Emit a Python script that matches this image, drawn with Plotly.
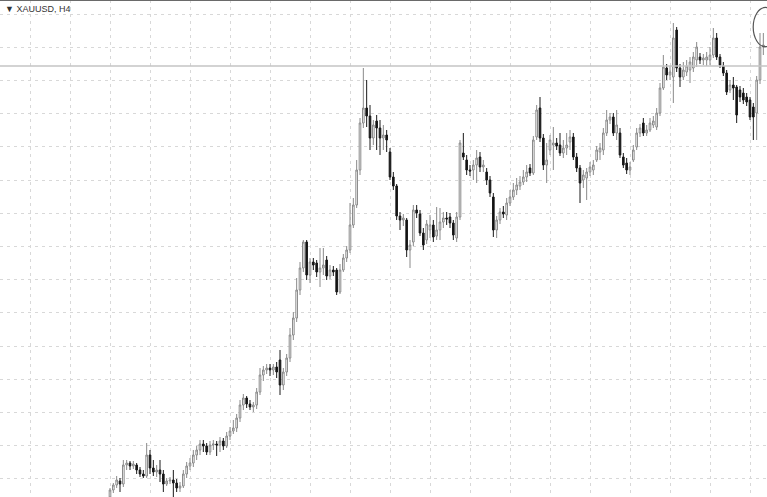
"""XAUUSD H4 candlestick chart in an MT4-like white theme."""
import plotly.graph_objects as go

# Price values (chart units, bottom edge = 3, top edge = 500)
opens = [
    3, 10, 15, 19, 16, 35, 37, 34, 35, 30, 26, 24, 45, 32, 28, 30, 26, 16, 19, 20,
    17, 12, 14, 26, 34, 37, 45, 50, 56, 54, 48, 55, 56, 55, 59, 54, 64, 69, 72, 82,
    95, 102, 96, 93, 95, 108, 125, 130, 132, 130, 133, 140, 115, 128, 142, 165, 182, 210, 232, 258,
    225, 238, 237, 228, 232, 240, 224, 230, 230, 208, 230, 242, 250, 275, 295, 330, 377, 392, 384, 362,
    379, 372, 362, 365, 348, 323, 314, 284, 280, 280, 250, 258, 290, 286, 267, 260, 270, 275, 264, 270,
    278, 282, 283, 277, 262, 283, 347, 340, 330, 330, 335, 343, 333, 328, 320, 303, 270, 280, 288, 285,
    297, 303, 310, 314, 318, 323, 332, 327, 363, 392, 362, 335, 350, 355, 357, 355, 347, 352, 358, 363,
    343, 332, 320, 322, 328, 330, 340, 348, 350, 367, 380, 383, 367, 367, 343, 337, 330, 340, 353, 367,
    377, 367, 370, 375, 373, 387, 412, 432, 425, 423, 470, 432, 423, 428, 430, 432, 440, 443, 440, 440,
    440, 445, 462, 443, 434, 427, 410, 415, 413, 410, 407, 403, 400, 393, 387, 420, 453,
]
highs = [
    12, 17, 24, 22, 40, 40, 39, 39, 37, 33, 30, 57, 50, 40, 35, 40, 30, 22, 23, 30,
    21, 18, 30, 38, 42, 50, 54, 60, 60, 57, 59, 60, 59, 63, 62, 68, 73, 80, 86, 100,
    106, 104, 100, 98, 112, 132, 134, 136, 136, 136, 138, 150, 132, 146, 172, 188, 222, 238, 260, 260,
    242, 242, 240, 252, 252, 244, 235, 234, 232, 236, 246, 254, 297, 302, 340, 382, 432, 420, 395, 380,
    385, 380, 375, 370, 352, 328, 316, 288, 286, 282, 260, 295, 295, 290, 272, 280, 285, 280, 293, 292,
    288, 288, 287, 280, 288, 360, 367, 345, 335, 340, 350, 348, 340, 332, 324, 307, 284, 292, 294, 302,
    310, 317, 322, 324, 330, 335, 336, 364, 395, 403, 366, 357, 365, 373, 362, 367, 360, 367, 370, 367,
    347, 335, 330, 332, 338, 340, 354, 357, 372, 390, 387, 387, 390, 372, 347, 342, 338, 355, 372, 376,
    382, 375, 382, 384, 392, 417, 445, 436, 434, 477, 473, 436, 438, 440, 443, 448, 458, 447, 446, 448,
    453, 472, 467, 446, 438, 430, 420, 423, 415, 414, 412, 407, 403, 397, 424, 467, 467,
]
lows = [
    1, 7, 12, 8, 13, 30, 30, 31, 26, 23, 22, 22, 26, 24, 23, 18, 8, 14, 16, 3,
    8, 8, 12, 22, 30, 33, 40, 45, 48, 45, 45, 50, 44, 48, 50, 52, 60, 66, 68, 78,
    90, 92, 90, 88, 91, 105, 119, 126, 124, 125, 122, 105, 110, 124, 138, 160, 178, 205, 228, 220,
    217, 230, 223, 213, 225, 220, 221, 224, 205, 206, 228, 238, 247, 272, 292, 325, 372, 373, 350, 355,
    350, 345, 350, 348, 320, 310, 280, 270, 274, 243, 232, 254, 282, 264, 250, 256, 262, 258, 260, 260,
    272, 275, 272, 260, 258, 280, 340, 325, 324, 320, 317, 328, 328, 315, 303, 263, 262, 276, 282, 280,
    294, 300, 305, 310, 315, 318, 324, 325, 360, 358, 330, 317, 345, 330, 350, 344, 342, 345, 350, 340,
    328, 297, 312, 300, 324, 325, 338, 340, 345, 364, 376, 364, 360, 342, 332, 326, 325, 338, 350, 363,
    364, 364, 368, 372, 370, 384, 410, 420, 420, 397, 428, 413, 420, 424, 417, 428, 433, 436, 435, 434,
    435, 442, 440, 432, 424, 405, 407, 400, 377, 398, 396, 394, 380, 360, 360, 416, 445,
]
closes = [
    10, 15, 20, 16, 35, 37, 34, 36, 30, 26, 24, 45, 32, 28, 30, 26, 16, 19, 20, 17,
    12, 14, 26, 34, 37, 45, 50, 56, 54, 48, 55, 56, 55, 59, 54, 64, 69, 72, 82, 95,
    102, 96, 93, 95, 108, 125, 130, 132, 130, 133, 128, 115, 128, 142, 165, 182, 210, 232, 258, 225,
    238, 235, 228, 232, 235, 224, 230, 228, 208, 230, 242, 250, 275, 295, 330, 377, 392, 384, 362, 375,
    372, 362, 365, 360, 323, 314, 284, 280, 282, 250, 255, 290, 287, 267, 255, 276, 275, 263, 270, 278,
    282, 281, 277, 265, 283, 357, 343, 330, 329, 335, 342, 333, 335, 320, 307, 270, 280, 288, 286, 297,
    303, 310, 315, 318, 323, 328, 327, 360, 390, 362, 335, 340, 360, 357, 354, 347, 352, 355, 363, 343,
    332, 317, 325, 328, 333, 335, 350, 352, 367, 380, 383, 367, 375, 345, 335, 330, 333, 350, 367, 372,
    367, 370, 377, 379, 387, 412, 433, 425, 428, 462, 432, 423, 430, 434, 438, 443, 453, 440, 442, 443,
    445, 462, 443, 435, 427, 408, 415, 412, 385, 403, 400, 398, 383, 383, 420, 453, 455,
]
bars = list(range(len(closes)))

title_text = "▼ XAUUSD, H4"
hline_price = 434

# pixel geometry of the MT4 window: 12 bars per 40 px grid cell
first_bar_px = 110
px_per_bar = 40 / 12
x_start = -first_bar_px / px_per_bar
x_end = x_start + 767 / px_per_bar

fig = go.Figure()

fig.add_trace(go.Candlestick(
    x=bars,
    open=opens,
    high=highs,
    low=lows,
    close=closes,
    increasing=dict(line=dict(color="#8a8a8a", width=1), fillcolor="#ffffff"),
    decreasing=dict(line=dict(color="#1a1a1a", width=1), fillcolor="#111111"),
    whiskerwidth=0,
    showlegend=False,
))

# horizontal price level line
fig.add_hline(y=hline_price, line_color="#c4c4c4", line_width=1.5)

# top window border
fig.add_shape(type="line", xref="paper", yref="paper", x0=0, x1=1, y0=1, y1=1,
              line=dict(color="#6a6a6a", width=2))

# hand-drawn circle marker at the right edge
fig.add_shape(type="circle", xref="paper", yref="paper",
              x0=0.982, x1=1.014, y0=0.906, y1=0.985,
              line=dict(color="#555555", width=1.2))

fig.add_annotation(
    x=0.004, y=0.995, xref="paper", yref="paper",
    text=title_text, showarrow=False,
    xanchor="left", yanchor="top",
    font=dict(family="Liberation Sans, Arial", size=9, color="#333333"),
)

fig.update_layout(
    width=767,
    height=497,
    margin=dict(l=0, r=0, t=0, b=0),
    paper_bgcolor="#ffffff",
    plot_bgcolor="#ffffff",
    showlegend=False,
    xaxis=dict(
        range=[x_start, x_end],
        rangeslider=dict(visible=False),
        showticklabels=False,
        tick0=-24, dtick=12,
        showgrid=True, gridcolor="#d8d8d8", griddash="3px,4px", gridwidth=1,
        zeroline=False, showline=False,
    ),
    yaxis=dict(
        range=[3, 500],
        showticklabels=False,
        tick0=21.2, dtick=33.2,
        showgrid=True, gridcolor="#d8d8d8", griddash="3px,4px", gridwidth=1,
        zeroline=False, showline=False,
    ),
)

# drop the default 8px page margin so the figure fills the window
fig.write_html(
    "out.html",
    config={"displayModeBar": False},
    post_script="document.body.style.margin='0';",
)
